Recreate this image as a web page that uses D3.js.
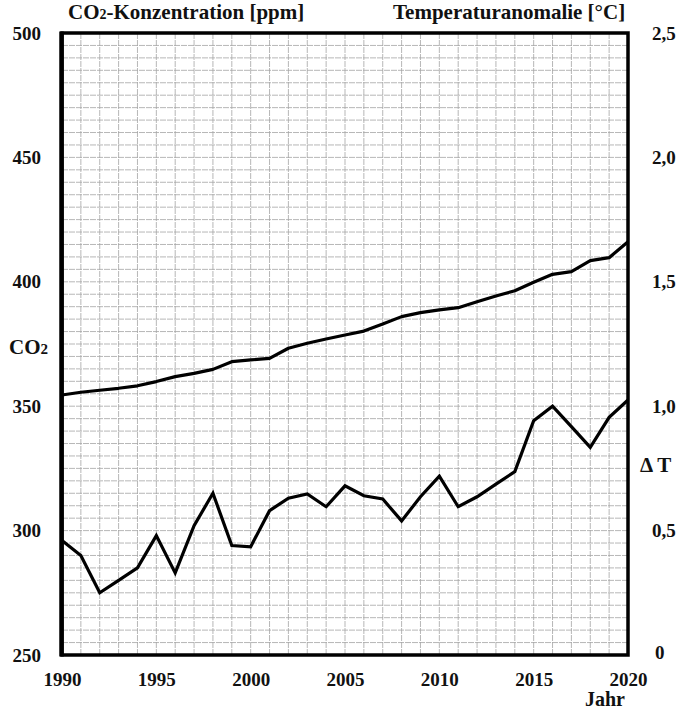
<!DOCTYPE html>
<html><head><meta charset="utf-8">
<script src="https://cdn.jsdelivr.net/npm/d3@7"></script>
<style>
body{margin:0;background:#fff;}
text{font-family:"Liberation Serif","Times New Roman",serif;font-weight:bold;fill:#111;}
</style></head>
<body><svg id="c" width="685" height="715"></svg>
<script>
const years = d3.range(1990, 2021);
const co2 = [354.5, 355.6, 356.4, 357.2, 358.2, 359.9, 361.9, 363.2, 364.8, 367.9, 368.6, 369.2, 373.3, 375.3, 377.0, 378.6, 380.2, 383.0, 386.0, 387.6, 388.7, 389.6, 392.0, 394.3, 396.4, 399.8, 403.0, 404.1, 408.5, 409.7, 416.1];
const tempAnomaly = [0.46, 0.40, 0.25, 0.30, 0.35, 0.48, 0.33, 0.52, 0.65, 0.44, 0.435, 0.58, 0.63, 0.647, 0.596, 0.68, 0.64, 0.627, 0.539, 0.636, 0.719, 0.596, 0.636, 0.687, 0.737, 0.942, 1.0, 0.918, 0.835, 0.955, 1.025];
const xTicks = [1990, 1995, 2000, 2005, 2010, 2015, 2020];
const co2Ticks = [250, 300, 350, 400, 450, 500];
const tempTicks = [0, 0.5, 1.0, 1.5, 2.0, 2.5];
const tempTickLabels = ["0", "0,5", "1,0", "1,5", "2,0", "2,5"];

const svg = d3.select("#c");
const L = 62, R = 628, T = 33, B = 655;
const x = d3.scaleLinear().domain([1990, 2020]).range([L, R]);
const yC = d3.scaleLinear().domain([250, 500]).range([B, T]);
const yT = d3.scaleLinear().domain([0, 2.5]).range([B, T]);

// grid
const g = svg.append("g");
g.selectAll("line.v").data(d3.range(1991, 2020)).join("line")
  .attr("x1", d => x(d)).attr("x2", d => x(d)).attr("y1", T).attr("y2", B)
  .attr("stroke", "#a4a4a4").attr("stroke-width", 0.8).attr("stroke-dasharray", "6,1");
g.selectAll("line.h").data(d3.range(255, 500, 5)).join("line")
  .attr("y1", d => yC(d)).attr("y2", d => yC(d)).attr("x1", L).attr("x2", R)
  .attr("stroke", "#a4a4a4").attr("stroke-width", 0.8).attr("stroke-dasharray", "6,1");

// lines
const lineC = d3.line().x((d, i) => x(years[i])).y(d => yC(d));
const lineT = d3.line().x((d, i) => x(years[i])).y(d => yT(d));
svg.append("path").attr("d", lineC(co2)).attr("fill", "none").attr("stroke", "#000").attr("stroke-width", 3.2).attr("stroke-linejoin", "round");
svg.append("path").attr("d", lineT(tempAnomaly)).attr("fill", "none").attr("stroke", "#000").attr("stroke-width", 3.2).attr("stroke-linejoin", "miter");

// frame
svg.append("rect").attr("x", L).attr("y", T).attr("width", R - L).attr("height", B - T)
  .attr("fill", "none").attr("stroke", "#000").attr("stroke-width", 3.5);
svg.append("line").attr("x1", L - 0.5).attr("x2", L - 0.5).attr("y1", T - 1.5).attr("y2", B + 1.5)
  .attr("stroke", "#000").attr("stroke-width", 4.5);

// axes
const axL = svg.append("g").attr("transform", `translate(${L - 21},0)`)
  .call(d3.axisLeft(yC).tickValues(co2Ticks).tickSize(0).tickFormat(d3.format("d")));
const axR = svg.append("g").attr("transform", `translate(${R + 24},0)`)
  .call(d3.axisRight(yT).tickValues(tempTicks).tickSize(0).tickFormat((d, i) => tempTickLabels[i]));
const axB = svg.append("g").attr("transform", `translate(0,${B + 17})`)
  .call(d3.axisBottom(x).tickValues(xTicks).tickSize(0).tickFormat(d3.format("d")));
[axL, axR, axB].forEach(a => {
  a.select(".domain").remove();
  a.selectAll("text").style("font-family", '"Liberation Serif",serif').style("font-weight", "bold").style("font-size", "19px").attr("fill", "#111");
});
axL.selectAll("text").attr("x", 0).attr("dy", "0.32em");
axR.selectAll("text").attr("x", 0).attr("dy", "0.32em");
axR.selectAll(".tick").filter(d => d === 0).select("text").attr("dy", "0.2em").attr("x", 3);
axB.selectAll("text").attr("dy", "0.71em").attr("y", 0);

// titles
const t1 = svg.append("text").attr("x", 68).attr("y", 19).style("font-size", "21px");
t1.append("tspan").text("CO");
t1.append("tspan").text("2").style("font-size", "14px");
t1.append("tspan").text("-Konzentration [ppm]");
svg.append("text").attr("x", 393).attr("y", 19).style("font-size", "21px").text("Temperaturanomalie [°C]");
const t3 = svg.append("text").attr("x", 9).attr("y", 354).style("font-size", "21px");
t3.append("tspan").text("CO");
t3.append("tspan").text("2").style("font-size", "15px");
svg.append("text").attr("x", 640).attr("y", 472).style("font-size", "21px").text("Δ T");
svg.append("text").attr("x", 585).attr("y", 706).style("font-size", "20px").text("Jahr");
</script></body></html>
